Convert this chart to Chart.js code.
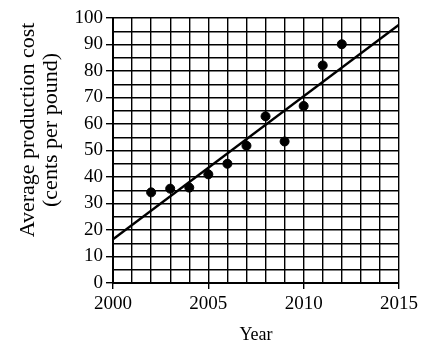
<!DOCTYPE html>
<html>
<head>
<meta charset="utf-8">
<script src="https://cdn.jsdelivr.net/npm/chart.js@4"></script>
<style>
  html, body { margin: 0; padding: 0; background: #fff; }
  #wrap { width: 430px; height: 346px; }
</style>
</head>
<body>
<div id="wrap"><canvas id="cost" width="430" height="346"></canvas></div>
<script>
// yearly averages, cents per pound
var years = [2002, 2003, 2004, 2005, 2006, 2007, 2008, 2009, 2010, 2011, 2012];
var costs = [34.2, 35.6, 36, 41, 45, 51.8, 62.9, 53.4, 66.8, 82.1, 90.1];

// line of best fit, end points
var fitYears = [2000, 2015];
var fitCosts = [16.5, 97.5];

var yTitle = ['Average production cost', '(cents per pound)'];
var xTitle = 'Year';

var serif = "'Liberation Serif', 'DejaVu Serif', serif";

var points = years.map(function (yr, i) { return { x: yr, y: costs[i] }; });
var fit = fitYears.map(function (yr, i) { return { x: yr, y: fitCosts[i] }; });

// y title is drawn by hand so it can sit a bit above the middle
var yTitlePlugin = {
  id: 'yTitle',
  afterDraw: function (chart) {
    var ctx = chart.ctx;
    ctx.save();
    ctx.fillStyle = '#000';
    ctx.font = '22px ' + serif;
    ctx.textAlign = 'center';
    ctx.textBaseline = 'middle';
    ctx.translate(0, 130);
    ctx.rotate(-Math.PI / 2);
    ctx.fillText(yTitle[0], 0, 28);
    ctx.fillText(yTitle[1], 0, 51);
    ctx.restore();
  }
};

new Chart(document.getElementById('cost'), {
  type: 'scatter',
  data: {
    datasets: [{
      data: points,
      backgroundColor: '#000',
      borderColor: '#000',
      pointRadius: 4.5,
      pointHoverRadius: 4.5,
      order: 0
    }, {
      type: 'line',
      data: fit,
      borderColor: '#000',
      borderWidth: 2.4,
      pointRadius: 0,
      fill: false,
      order: 1
    }]
  },
  options: {
    responsive: false,
    animation: false,
    events: [],
    layout: { padding: { left: 0, right: 31, top: 18, bottom: 0 } },
    plugins: {
      legend: { display: false },
      tooltip: { enabled: false }
    },
    scales: {
      x: {
        type: 'linear',
        min: 2000,
        max: 2015,
        afterFit: function (scale) { scale.height = 63; },
        ticks: {
          stepSize: 1,
          autoSkip: false,
          maxRotation: 0,
          padding: 4,
          color: '#000',
          font: { family: serif, size: 19 },
          callback: function (v) { return v % 5 === 0 ? String(v) : ''; }
        },
        grid: {
          color: '#000',
          lineWidth: 1.4,
          tickLength: 6,
          tickColor: function (c) { return c.tick && c.tick.value % 5 === 0 ? '#000' : 'rgba(0,0,0,0)'; }
        },
        border: { color: '#000', width: 2 },
        title: {
          display: true,
          text: xTitle,
          color: '#000',
          font: { family: serif, size: 18 },
          padding: { top: 1, bottom: 0 }
        }
      },
      y: {
        min: 0,
        max: 100,
        afterFit: function (scale) { scale.width = 113; },
        ticks: {
          stepSize: 5,
          autoSkip: false,
          padding: 3,
          color: '#000',
          font: { family: serif, size: 19 },
          callback: function (v) { return v % 10 === 0 ? String(v) : ''; }
        },
        grid: {
          color: '#000',
          lineWidth: 1.4,
          tickLength: 7,
          tickColor: function (c) { return c.tick && c.tick.value % 10 === 0 ? '#000' : 'rgba(0,0,0,0)'; }
        },
        border: { color: '#000', width: 2 }
      }
    }
  },
  plugins: [yTitlePlugin]
});
</script>
</body>
</html>
